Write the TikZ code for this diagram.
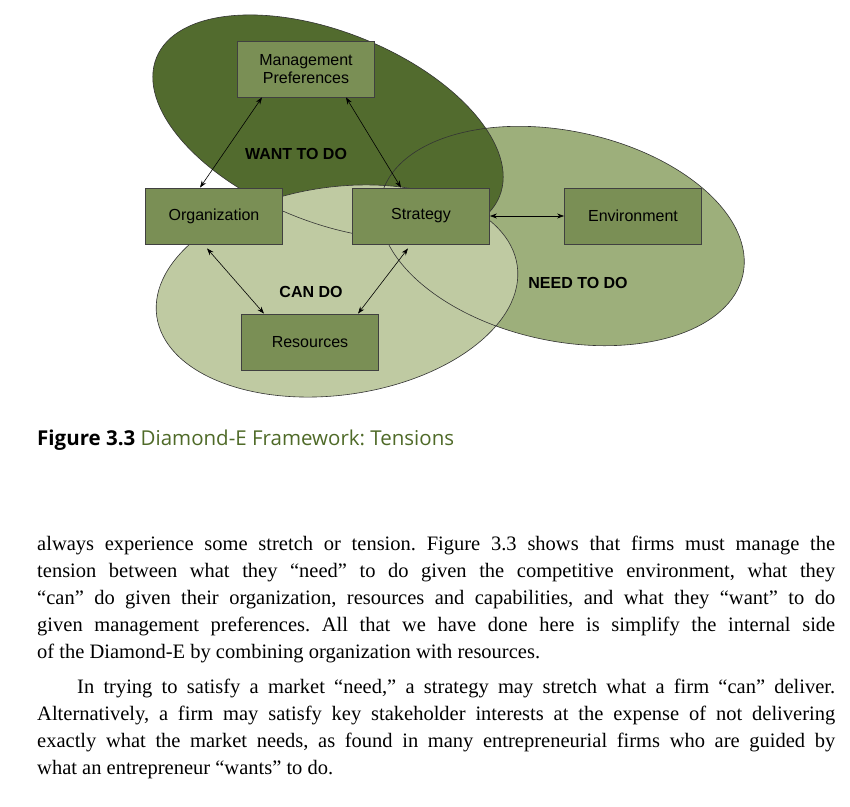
\documentclass[tikz,border=0pt]{standalone}
\usepackage{fontspec}
\usetikzlibrary{arrows.meta}
\setmainfont{Liberation Serif}
\newfontfamily\lsans{Liberation Sans}
\newfontfamily\osans{Open Sans}
\definecolor{dkg}{HTML}{526B2E}
\definecolor{mdg}{HTML}{9DAF7B}
\definecolor{ltg}{HTML}{BFCAA2}
\definecolor{boxg}{HTML}{7A8F55}
\definecolor{capg}{HTML}{4F6A28}
\begin{document}
\frenchspacing
\begin{tikzpicture}[x=1pt,y=-1pt,
  box/.style={draw=black!75,fill=boxg,line width=0.8pt,minimum width=137pt,minimum height=56pt,inner sep=0pt,align=center,font=\lsans\fontsize{16}{18}\selectfont},
  lab/.style={font=\lsans\bfseries\fontsize{16}{18}\selectfont},
  arr/.style={{Stealth[length=7pt,width=5pt]}-{Stealth[length=7pt,width=5pt]},line width=0.6pt},
  ell/.style={draw=black!80,line width=0.6pt},
  line/.style={anchor=north west,inner sep=0pt,font=\fontsize{20.5}{27}\selectfont}]
\useasboundingbox (0,0) rectangle (850,806);
% ellipses
\fill[mdg] (562,236) ellipse [x radius=185,y radius=105,rotate=-12];
\fill[dkg] (328,127) ellipse [x radius=185,y radius=95,rotate=-22];
\fill[ltg] (337,291) ellipse [x radius=182,y radius=104,rotate=8];
\draw[ell] (562,236) ellipse [x radius=185,y radius=105,rotate=-12];
\draw[ell] (328,127) ellipse [x radius=185,y radius=95,rotate=-22];
\draw[ell] (337,291) ellipse [x radius=182,y radius=104,rotate=8];
% boxes
\node[box] (mp) at (306,69) {Management\\Preferences};
\node[box] (org) at (214,216) {Organization};
\node[box] (str) at (421,216) {Strategy};
\node[box] (env) at (633,216) {Environment};
\node[box] (res) at (310,342) {Resources};
% labels
\node[lab] (w) at (296,154) {WANT TO DO};
\node[lab] (c) at (311,292) {CAN DO};
\node[lab] (n) at (578,283) {NEED TO DO};
% arrows
\draw[arr] ([xshift=-44pt]mp.south) -- ([xshift=-14pt]org.north);
\draw[arr] ([xshift=40pt]mp.south) -- ([xshift=-20pt]str.north);
\draw[arr] (str.east) -- (env.west);
\draw[arr] ([xshift=-7pt,yshift=-4pt]org.south) -- ([xshift=-46pt]res.north);
\draw[arr] ([xshift=-13pt,yshift=-4pt]str.south) -- ([xshift=48pt]res.north);
% caption
\node[anchor=base west,inner sep=0pt,font=\osans\fontsize{20.5}{24}\selectfont] (cap) at (37,445)
  {\textbf{Figure 3.3}\ \textcolor{capg}{Diamond-E Framework: Tensions}};
% text
\node[line] (l1) at (37,536) {\makebox[798pt][s]{always experience some stretch or tension. Figure 3.3 shows that firms must manage the}};
\node[line] (l2) at (37,563) {\makebox[798pt][s]{tension between what they “need” to do given the competitive environment, what they}};
\node[line] (l3) at (37,590) {\makebox[798pt][s]{“can” do given their organization, resources and capabilities, and what they “want” to do}};
\node[line] (l4) at (37,617) {\makebox[798pt][s]{given management preferences. All that we have done here is simplify the internal side}};
\node[line] (l5) at (37,644) {of the Diamond-E by combining organization with resources.};
\node[line] (l6) at (77,679) {\makebox[758pt][s]{In trying to satisfy a market “need,” a strategy may stretch what a firm “can” deliver.}};
\node[line] (l7) at (37,706) {\makebox[798pt][s]{Alternatively, a firm may satisfy key stakeholder interests at the expense of not delivering}};
\node[line] (l8) at (37,733) {\makebox[798pt][s]{exactly what the market needs, as found in many entrepreneurial firms who are guided by}};
\node[line] (l9) at (37,760) {what an entrepreneur “wants” to do.};
\end{tikzpicture}
\end{document}
